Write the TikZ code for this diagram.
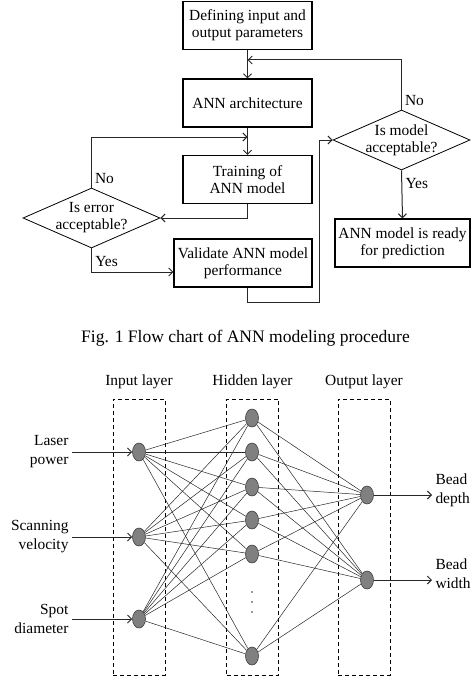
\documentclass[tikz,border=0pt]{standalone}
\usepackage{fontspec}
\setmainfont{Liberation Serif}
\usepackage{amsmath}
\usetikzlibrary{arrows.meta, shapes.geometric}
\tikzset{>={Straight Barb[length=4bp,width=8bp]}}
\tikzset{
  stepbox/.style={draw, line width=1.1bp, minimum width=129bp, minimum height=48bp, align=center, inner sep=1bp},
  decision/.style={draw, diamond, line width=0.8bp, minimum width=137bp, minimum height=60bp, inner sep=0pt},
  flow/.style={->, line width=1bp, draw=black!85},
  layerbox/.style={draw, dash pattern=on 4bp off 3bp, line width=0.8bp, minimum width=52bp, minimum height=276bp},
  neuron/.style={ellipse, draw=black!75, fill=gray, line width=0.6bp, minimum width=13bp, minimum height=18bp, inner sep=0pt},
  synapse/.style={line width=0.5bp, black!85},
  iolabel/.style={font=\fontsize{15.5}{19}\selectfont}
}

\begin{document}
\begin{tikzpicture}[x=1bp, y=-1bp, font=\fontsize{15.5}{17}\selectfont]
\useasboundingbox (0,0) rectangle (474,700);

 % Flow chart boxes
 \node[stepbox] (def) at (247.5,25.5) {Defining input and\\output parameters};
 \node[stepbox] (arch) at (247.5,103) {ANN architecture};
 \node[stepbox] (train) at (247.5,179.5) {Training of\\ANN model};
 \node[stepbox, minimum width=138bp] (valid) at (243,263) {Validate ANN model\\performance};
 \node[stepbox, minimum width=135bp] (ready) at (402.5,243) {ANN model is ready\\for prediction};
 \node[decision, label={[align=center]center:Is error\\acceptable?}] (err) at (91.5,218) {};
 \node[decision, label={[align=center]center:Is model\\acceptable?}] (acc) at (401.5,140) {};

 \coordinate (back) at (247.5,60);
 \coordinate (retry) at (247.5,137);

 % Connectors
 \draw[flow] (def) -- (arch);
 \draw[flow] (arch) -- (train);
 \draw[flow] (train.south) |- (err.east);
 \draw[flow] (err.north) |- (retry) node[pos=0, anchor=south west, inner sep=3bp] {No};
 \draw[flow] (err.south) |- ([yshift=-9bp]valid.west) node[pos=0.27, right] {Yes};
 \draw[flow] (valid.south -| arch.south) -- ++(0,15) -| ([xshift=-13bp]acc.west) -- (acc.west);
 \draw[flow] (acc.north) |- (back) node[pos=0, anchor=south west, inner sep=3bp] {No};
 \draw[flow] (acc.south) -- (ready.north) node[pos=0.27, right] {Yes};

 \node (cap) at (245.5,338) {\fontsize{17.6}{20}\selectfont Fig. 1 Flow chart of ANN modeling procedure};

 % Layers
 \node[layerbox] (inbox) at (139,537) {};
 \node[layerbox] (hidbox) at (252.5,537) {};
 \node[layerbox] (outbox) at (364,537) {};
 \node (intitle) at (139,382) {Input layer};
 \node (hidtitle) at (252.5,382) {Hidden layer};
 \node (outtitle) at (364,382) {Output layer};

 \foreach \y [count=\k] in {452,537,619}
   \node[neuron] (i\k) at (139,\y) {};
 \foreach \y [count=\k] in {418,452,487,520,554,656}
   \node[neuron] (h\k) at (252,\y) {};
 \foreach \y [count=\k] in {495,580}
   \node[neuron] (o\k) at (367,\y) {};
 % Vertical dots
 \foreach \y in {592,602,612}
   \fill[black!80] (252,\y) circle[radius=0.9bp];

 % Weights
 \foreach \i in {1,2,3}{
   \foreach \h in {1,...,6}{
     \draw[synapse] (i\i) -- (h\h);
   }
 }
 \foreach \h in {1,...,6}{
   \foreach \o in {1,2}{
     \draw[synapse] (h\h) -- (o\o);
   }
 }

 % Inputs and outputs
 \node[iolabel, anchor=east, align=right] (lp) at (72,452) {Laser\\power};
 \node[iolabel, anchor=east, align=right] (sv) at (72,537) {Scanning\\velocity};
 \node[iolabel, anchor=east, align=right] (sd) at (72,619) {Spot\\diameter};
 \node[iolabel, anchor=west, align=left] (bd) at (432,490) {Bead\\depth};
 \node[iolabel, anchor=west, align=left] (bw) at (432,574) {Bead\\width};

 \draw[flow] (lp) -- (i1);
 \draw[flow] (sv) -- (i2);
 \draw[flow] (sd) -- (i3);
 \draw[flow] (o1) -- (o1 -| bd.west);
 \draw[flow] (o2) -- (o2 -| bw.west);

\end{tikzpicture}
\end{document}
